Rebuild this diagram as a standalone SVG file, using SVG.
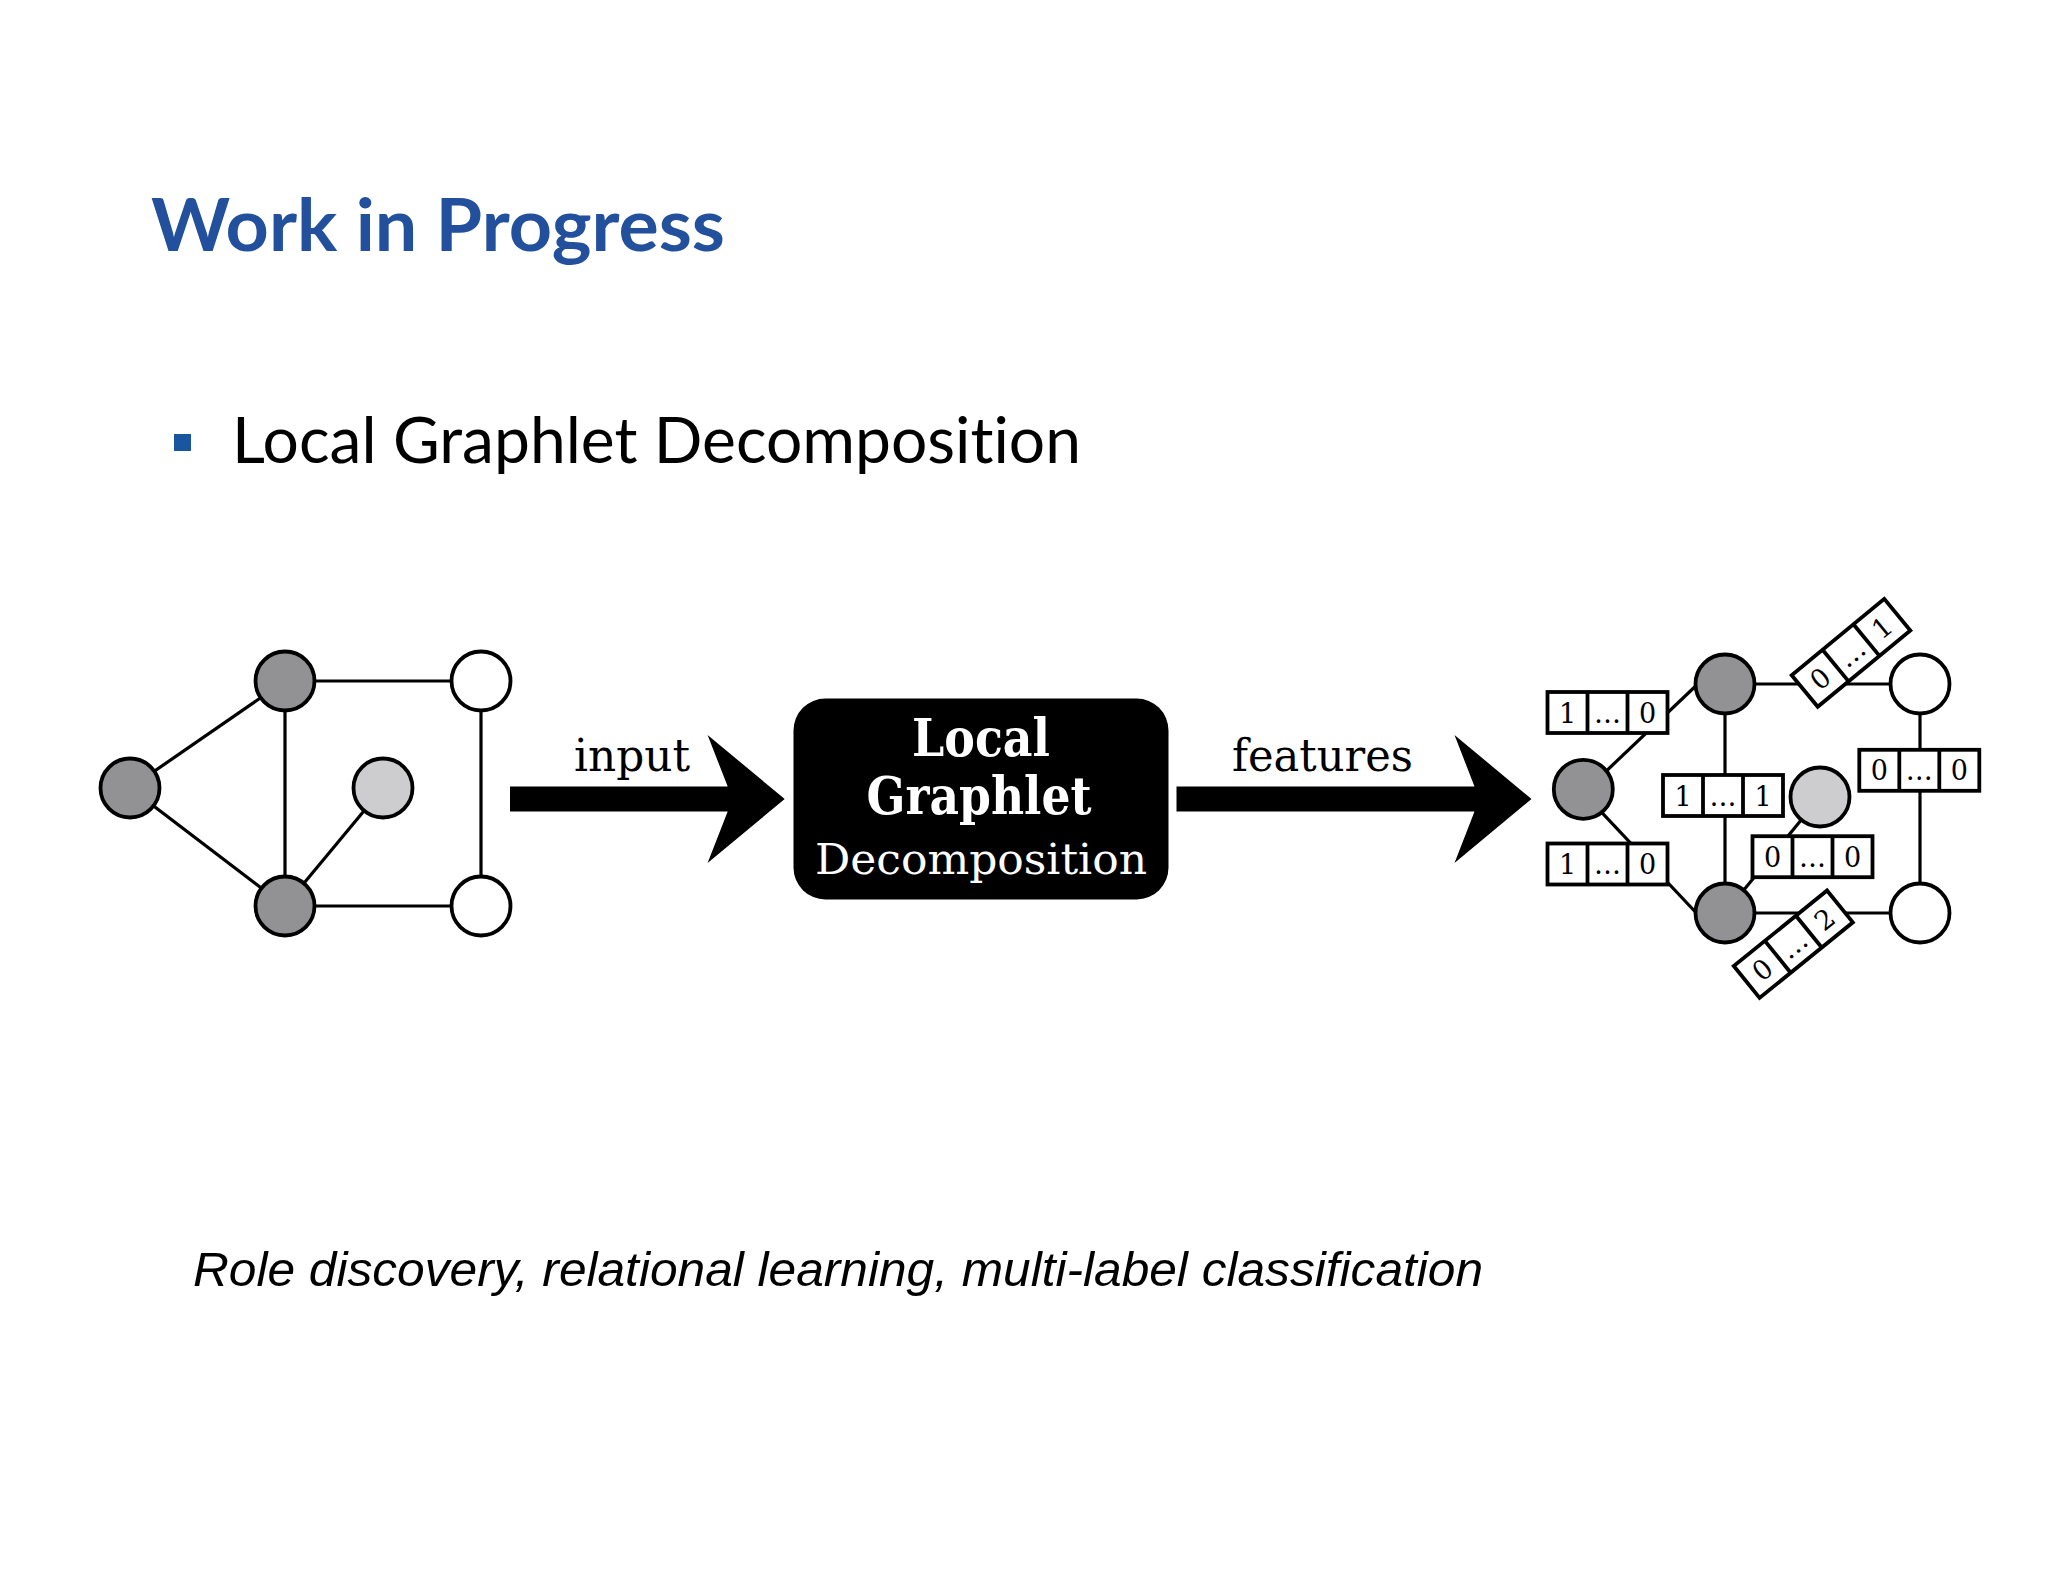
<svg xmlns="http://www.w3.org/2000/svg" width="2048" height="1582" viewBox="0 0 2048 1582">
<style>
text{font-variant-ligatures:none;font-feature-settings:"liga" 0,"clig" 0,"dlig" 0}
.edge{stroke:#000;stroke-width:3.2;fill:none}
.nd{stroke:#000;stroke-width:3.8}
.dark{fill:#929194}
.light{fill:#cdccce}
.white{fill:#fff}
.cell{fill:#fff;stroke:#000;stroke-width:3.8}
.dig{font-family:"DejaVu Serif","Liberation Serif",serif;font-size:27px;fill:#000;text-anchor:middle}
.lbl{font-family:"DejaVu Serif","Liberation Serif",serif;font-size:44px;fill:#000}
.box{font-family:"DejaVu Serif","Liberation Serif",serif;fill:#fff;text-anchor:middle}
</style>
<defs>
<g id="vec">
<rect class="cell" x="-60" y="-20.5" width="120" height="41"/>
<line class="cell" x1="-20" y1="-20.5" x2="-20" y2="20.5"/>
<line class="cell" x1="20" y1="-20.5" x2="20" y2="20.5"/>
</g>
</defs>
<rect width="2048" height="1582" fill="#fff"/>

<g id="title">
<text x="151" y="251" font-family="Lato,'Open Sans',sans-serif" font-weight="bold" font-size="72" fill="#22509c" textLength="574" lengthAdjust="spacingAndGlyphs">Work in Progress</text>
</g>
<g id="bullet">
<rect x="174" y="434" width="17" height="17" fill="#1a56a0"/>
<text x="232" y="463" font-family="Lato,'Open Sans',sans-serif" font-size="64" fill="#000" textLength="849" lengthAdjust="spacingAndGlyphs">Local Graphlet Decomposition</text>
</g>

<!-- Left input graph -->
<g id="input-graph-edges">
<line class="edge" x1="130" y1="788" x2="285" y2="681"/>
<line class="edge" x1="130" y1="788" x2="285" y2="906"/>
<line class="edge" x1="285" y1="681" x2="285" y2="906"/>
<line class="edge" x1="285" y1="681" x2="481" y2="681"/>
<line class="edge" x1="481" y1="681" x2="481" y2="906"/>
<line class="edge" x1="285" y1="906" x2="481" y2="906"/>
<line class="edge" x1="285" y1="906" x2="383" y2="788"/>
</g>
<g id="in-n1"><circle class="nd dark" cx="130" cy="788" r="29.5"/></g>
<g id="in-n2"><circle class="nd dark" cx="285" cy="681" r="29.5"/></g>
<g id="in-n3"><circle class="nd white" cx="481" cy="681" r="29.5"/></g>
<g id="in-n4"><circle class="nd light" cx="383" cy="788" r="29.5"/></g>
<g id="in-n5"><circle class="nd dark" cx="285" cy="906" r="29.5"/></g>
<g id="in-n6"><circle class="nd white" cx="481" cy="906" r="29.5"/></g>

<!-- Connectors (big arrows) -->
<g id="connectors">
<polygon points="510,786.5 727.7,786.5 707.6,735 784.7,799 707.6,863 727.7,811.5 510,811.5" fill="#000"/>
<polygon points="1176.5,786.5 1474.5,786.5 1454.5,735 1531.5,799 1454.5,863 1474.5,811.5 1176.5,811.5" fill="#000"/>
<text class="lbl" x="574" y="771" textLength="116" lengthAdjust="spacingAndGlyphs">input</text>
<text class="lbl" x="1232" y="771" textLength="181" lengthAdjust="spacingAndGlyphs">features</text>
</g>

<!-- Central process box -->
<g id="lgd-box">
<rect x="793.5" y="698.5" width="375" height="201" rx="32" fill="#000"/>
<text class="box" x="981" y="755.5" font-size="52" font-weight="bold" textLength="138" lengthAdjust="spacingAndGlyphs">Local</text>
<text class="box" x="979" y="813.5" font-size="52" font-weight="bold" textLength="225" lengthAdjust="spacingAndGlyphs">Graphlet</text>
<text class="box" x="981" y="873.5" font-size="43.5" textLength="332" lengthAdjust="spacingAndGlyphs">Decomposition</text>
</g>

<!-- Right output graph -->
<g id="output-graph-edges">
<line class="edge" x1="1600" y1="777" x2="1702" y2="680"/>
<line class="edge" x1="1597" y1="807.3" x2="1702" y2="919"/>
<line class="edge" x1="1725" y1="684" x2="1725" y2="913"/>
<line class="edge" x1="1725" y1="684" x2="1920" y2="684"/>
<line class="edge" x1="1920" y1="684" x2="1920" y2="913"/>
<line class="edge" x1="1725" y1="913" x2="1920" y2="913"/>
<line class="edge" x1="1725" y1="913" x2="1820" y2="797"/>
</g>
<g id="out-n1"><circle class="nd dark" cx="1583.3" cy="789.3" r="29.5"/></g>
<g id="out-n2"><circle class="nd dark" cx="1725" cy="684" r="29.5"/></g>
<g id="out-n3"><circle class="nd white" cx="1920" cy="684" r="29.5"/></g>
<g id="out-n4"><circle class="nd light" cx="1820" cy="797" r="29.5"/></g>
<g id="out-n5"><circle class="nd dark" cx="1725" cy="913" r="29.5"/></g>
<g id="out-n6"><circle class="nd white" cx="1920" cy="913" r="29.5"/></g>

<g id="vec-a" transform="translate(1607.5,712.5)">
<use href="#vec"/>
<text class="dig" x="-40" y="10">1</text><text class="dig" x="0" y="10">…</text><text class="dig" x="40" y="10">0</text>
</g>
<g id="vec-b" transform="translate(1607.5,864)">
<use href="#vec"/>
<text class="dig" x="-40" y="10">1</text><text class="dig" x="0" y="10">…</text><text class="dig" x="40" y="10">0</text>
</g>
<g id="vec-c" transform="translate(1723,795.5)">
<use href="#vec"/>
<text class="dig" x="-40" y="10">1</text><text class="dig" x="0" y="10">…</text><text class="dig" x="40" y="10">1</text>
</g>
<g id="vec-d" transform="translate(1919.3,770.3)">
<use href="#vec"/>
<text class="dig" x="-40" y="10">0</text><text class="dig" x="0" y="10">…</text><text class="dig" x="40" y="10">0</text>
</g>
<g id="vec-e" transform="translate(1812.5,856.7)">
<use href="#vec"/>
<text class="dig" x="-40" y="10">0</text><text class="dig" x="0" y="10">…</text><text class="dig" x="40" y="10">0</text>
</g>
<g id="vec-f" transform="translate(1851,652.8) rotate(-39.5)">
<use href="#vec"/>
<text class="dig" x="-40" y="10">0</text><text class="dig" x="0" y="10">…</text><text class="dig" x="40" y="10">1</text>
</g>
<g id="vec-g" transform="translate(1793.3,944.2) rotate(-39)">
<use href="#vec"/>
<text class="dig" x="-40" y="10">0</text><text class="dig" x="0" y="10">…</text><text class="dig" x="40" y="10">2</text>
</g>

<g id="caption">
<text x="193" y="1286" font-family="'Liberation Sans',Arial,sans-serif" font-style="italic" font-size="48" fill="#000" textLength="1290" lengthAdjust="spacingAndGlyphs">Role discovery, relational learning, multi-label classification</text>
</g>
</svg>
